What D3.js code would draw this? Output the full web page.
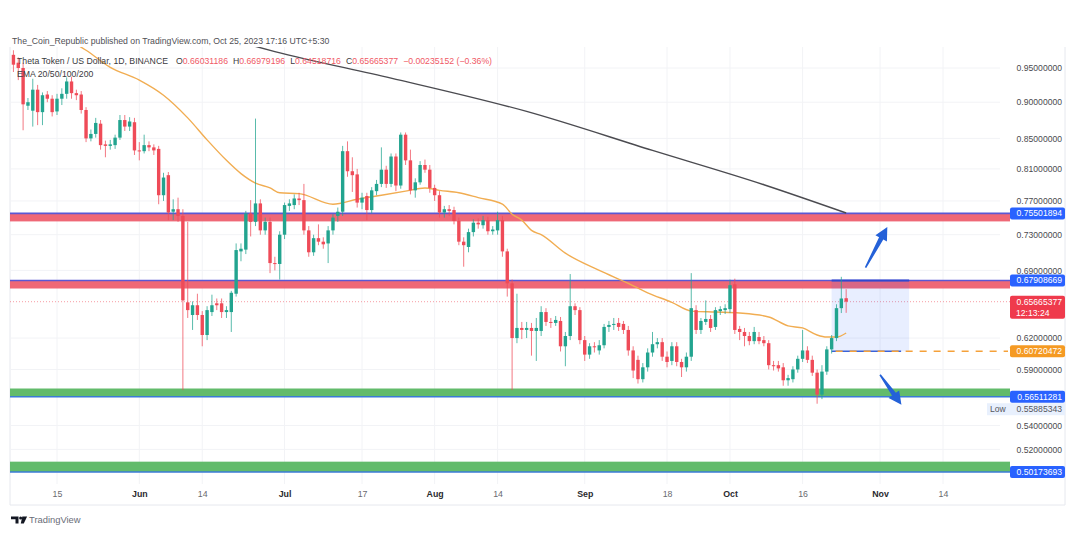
<!DOCTYPE html>
<html>
<head>
<meta charset="utf-8">
<script src="https://cdn.jsdelivr.net/npm/d3@7"></script>
<style>
  body { margin: 0; background: #fff; }
  text { font-family: "Liberation Sans", Arial, sans-serif; }
</style>
</head>
<body>
<svg id="chart" width="1073" height="549"></svg>
<script>
(function () {
    //daily candles, first one is May 6 2023, one per day after that
    var firstDay = "2023-05-06";

    var opens = [
        0.970,0.958,0.950,0.895,0.888,0.918,0.886,0.911,0.905,0.887,0.905,0.912,0.930,0.913,0.911,0.889,0.850,0.856,0.870,0.842,0.840,0.841,0.851,0.875,0.866,0.872,
        0.834,0.833,0.841,0.838,0.836,0.777,0.802,0.757,0.760,0.752,0.656,0.643,0.653,0.643,0.623,0.646,0.655,0.655,0.646,0.646,0.665,0.711,0.713,0.755,0.745,0.767,0.735,0.745,0.698,0.697,
        0.730,0.764,0.765,0.773,0.771,0.735,0.710,0.726,0.722,0.720,0.735,0.752,0.757,0.833,0.807,0.803,0.768,0.776,0.759,0.782,0.791,0.809,0.791,0.826,0.789,0.855,0.821,0.783,0.793,0.815,0.809,
        0.786,0.777,0.756,0.760,0.759,0.746,0.722,0.716,0.733,0.744,0.741,0.747,0.734,0.735,0.747,0.711,0.676,0.620,0.630,0.628,0.630,0.627,0.627,0.646,0.636,0.635,0.637,0.612,0.622,0.652,0.648,
        0.618,0.604,0.612,0.608,0.613,0.631,0.633,0.635,0.634,0.628,0.608,0.599,0.581,0.592,0.606,0.614,0.616,0.602,0.598,0.612,0.597,0.592,0.602,0.648,0.628,0.636,0.639,0.631,0.647,0.648,
        0.649,0.675,0.629,0.626,0.622,0.617,0.621,0.618,0.615,0.594,0.594,0.592,0.580,0.581,0.590,0.600,0.608,0.599,0.587,0.567,0.588,0.609,0.620,0.650,0.6603
    ];
    var highs = [
        0.977,0.966,0.958,0.906,0.934,0.925,0.914,0.916,0.910,0.912,0.920,0.936,0.937,0.918,0.916,0.893,0.862,0.878,0.875,0.847,0.848,0.855,0.882,0.882,0.879,0.878,
        0.845,0.855,0.846,0.842,0.840,0.805,0.806,0.772,0.774,0.760,0.745,0.657,0.665,0.647,0.652,0.664,0.660,0.660,0.652,0.668,0.720,0.720,0.758,0.771,0.877,0.772,0.750,0.750,0.705,0.734,
        0.768,0.772,0.778,0.780,0.791,0.740,0.730,0.742,0.727,0.740,0.754,0.762,0.840,0.846,0.825,0.810,0.780,0.780,0.787,0.796,0.838,0.814,0.830,0.830,0.858,0.858,0.835,0.798,0.820,0.822,0.815,
        0.790,0.782,0.764,0.765,0.763,0.750,0.727,0.737,0.748,0.749,0.752,0.751,0.740,0.757,0.752,0.714,0.680,0.665,0.636,0.636,0.635,0.640,0.652,0.650,0.640,0.642,0.641,0.626,0.686,0.655,0.651,
        0.622,0.615,0.616,0.618,0.634,0.637,0.640,0.640,0.637,0.632,0.612,0.603,0.596,0.610,0.626,0.620,0.620,0.607,0.616,0.616,0.600,0.606,0.687,0.653,0.640,0.658,0.643,0.651,0.652,0.654,
        0.680,0.681,0.632,0.630,0.626,0.631,0.626,0.622,0.618,0.598,0.598,0.596,0.585,0.593,0.603,0.628,0.612,0.603,0.590,0.594,0.612,0.623,0.654,0.683,0.6698
    ];
    var lows = [
        0.944,0.932,0.861,0.889,0.866,0.868,0.868,0.900,0.880,0.882,0.896,0.905,0.905,0.903,0.884,0.845,0.846,0.851,0.835,0.825,0.835,0.836,0.848,0.860,0.860,0.828,
        0.821,0.830,0.833,0.828,0.766,0.770,0.747,0.747,0.745,0.571,0.640,0.628,0.638,0.612,0.618,0.642,0.648,0.640,0.640,0.626,0.662,0.700,0.708,0.728,0.740,0.730,0.730,0.687,0.690,0.680,
        0.725,0.758,0.760,0.765,0.730,0.705,0.706,0.718,0.714,0.698,0.730,0.745,0.752,0.800,0.781,0.762,0.760,0.747,0.755,0.777,0.787,0.786,0.787,0.782,0.785,0.815,0.778,0.774,0.790,0.805,0.780,
        0.770,0.750,0.750,0.752,0.742,0.718,0.694,0.710,0.728,0.737,0.737,0.730,0.730,0.730,0.705,0.662,0.571,0.615,0.619,0.620,0.603,0.598,0.622,0.632,0.630,0.632,0.607,0.593,0.618,0.643,0.614,
        0.598,0.600,0.606,0.604,0.610,0.626,0.628,0.627,0.624,0.603,0.582,0.577,0.578,0.588,0.602,0.610,0.598,0.592,0.594,0.593,0.583,0.588,0.598,0.624,0.624,0.633,0.626,0.628,0.643,0.644,
        0.645,0.624,0.618,0.612,0.613,0.614,0.614,0.612,0.590,0.589,0.588,0.575,0.575,0.578,0.587,0.597,0.596,0.584,0.5589,0.563,0.585,0.605,0.617,0.645,0.6452
    ];
    var closes = [
        0.955,0.950,0.897,0.900,0.918,0.886,0.910,0.905,0.886,0.905,0.912,0.930,0.913,0.910,0.889,0.850,0.856,0.871,0.841,0.840,0.842,0.851,0.875,0.866,0.873,0.834,
        0.833,0.841,0.838,0.834,0.777,0.799,0.756,0.760,0.752,0.658,0.648,0.653,0.643,0.623,0.648,0.653,0.653,0.646,0.648,0.666,0.7125,0.714,0.755,0.745,0.767,0.735,0.745,0.698,0.697,0.730,
        0.765,0.767,0.773,0.771,0.735,0.710,0.726,0.722,0.719,0.735,0.750,0.757,0.833,0.807,0.802,0.768,0.774,0.759,0.783,0.791,0.809,0.791,0.826,0.789,0.855,0.821,0.783,0.793,0.815,0.809,0.786,
        0.777,0.756,0.760,0.758,0.746,0.722,0.718,0.733,0.744,0.742,0.747,0.734,0.736,0.747,0.711,0.676,0.620,0.630,0.628,0.630,0.627,0.630,0.646,0.636,0.635,0.638,0.612,0.622,0.652,0.648,0.618,
        0.604,0.612,0.611,0.613,0.631,0.633,0.634,0.631,0.628,0.608,0.589,0.581,0.592,0.606,0.614,0.616,0.602,0.597,0.612,0.597,0.592,0.602,0.650,0.628,0.637,0.639,0.630,0.648,0.649,0.650,
        0.674,0.628,0.626,0.622,0.617,0.626,0.617,0.615,0.594,0.593,0.591,0.580,0.582,0.590,0.600,0.608,0.599,0.587,0.567,0.588,0.609,0.620,0.650,0.660,0.6567
    ];

    //moving averages at a few dates
    var emaOrangeDates = ["2023-05-17","2023-05-21","2023-05-26","2023-06-01","2023-06-06","2023-06-11","2023-06-15","2023-06-19","2023-06-22","2023-06-25","2023-06-28","2023-06-30","2023-07-04","2023-07-11","2023-07-16","2023-07-21","2023-07-26","2023-07-30","2023-08-02","2023-08-06","2023-08-10","2023-08-15","2023-08-17","2023-08-19","2023-08-21","2023-08-23","2023-08-28","2023-09-04","2023-09-10","2023-09-14","2023-09-19","2023-09-23","2023-09-28","2023-10-03","2023-10-09","2023-10-13","2023-10-16","2023-10-19","2023-10-21","2023-10-23","2023-10-25"];
    var emaOrangeValues = [0.995,0.977,0.951,0.932,0.910,0.878,0.848,0.821,0.804,0.792,0.786,0.780,0.779,0.766,0.772,0.777,0.782,0.786,0.783,0.780,0.774,0.766,0.754,0.747,0.735,0.730,0.709,0.690,0.676,0.666,0.656,0.647,0.646,0.645,0.641,0.632,0.630,0.623,0.621,0.621,0.625];
    var emaGreyDates = ["2023-06-24","2023-06-29","2023-07-23","2023-08-20","2023-09-15","2023-10-08","2023-10-25"];
    var emaGreyValues = [0.985,0.975,0.935,0.887,0.834,0.790,0.7555];

    //support / resistance zones [top, bottom]
    var redZones = [[0.75501894, 0.7455], [0.67908669, 0.6705]];
    var greenZones = [[0.5725, 0.56511281], [0.5100, 0.50173693]];

    var priceTicks = [0.95, 0.90, 0.85, 0.81, 0.77, 0.73, 0.69, 0.62, 0.59, 0.54, 0.52];
    var timeTicks = ["2023-05-15","2023-06-01","2023-06-14","2023-07-01","2023-07-17","2023-08-01","2023-08-14","2023-09-01","2023-09-18","2023-10-01","2023-10-16","2023-11-01","2023-11-14"];
    var timeLabels = ["15","Jun","14","Jul","17","Aug","14","Sep","18","Oct","16","Nov","14"];

    var lastPrice = 0.65665377, lastTimer = "12:13:24";
    var stopPrice = 0.60720472, lowPrice = 0.55885343;
    var boxDates = ["2023-10-22", "2023-11-07"];
    var arrowUp = [["2023-10-29T00:00", 0.693], ["2023-11-02T12:00", 0.739]];
    var arrowDown = [["2023-11-01T00:00", 0.585], ["2023-11-05T10:00", 0.558]];

    var left = 10, right = 1010, top = 47, bottom = 484;
    var green = "#22a48f", red = "#ef4b58";

    var parseDay = d3.utcParse("%Y-%m-%d");
    var parseTime = d3.utcParse("%Y-%m-%dT%H:%M");
    function day(s) { return s.length > 10 ? parseTime(s) : parseDay(s); }

    var candles = opens.map(function (o, i) {
        return { date: d3.utcDay.offset(parseDay(firstDay), i), o: o, h: highs[i], l: lows[i], c: closes[i] };
    });

    var x = d3.scaleUtc()
        .domain([parseDay("2023-05-15"), parseDay("2023-11-14")])
        .range([57, 943]);
    var y = d3.scaleLog()
        .domain([0.95, 0.50173693])
        .range([68, 472]);

    var svg = d3.select("#chart");

    svg.append("defs").append("clipPath").attr("id", "plot")
        .append("rect").attr("x", left).attr("y", top)
        .attr("width", right - left).attr("height", bottom - top);

    //frame
    svg.append("path")
        .attr("d", "M" + left + "," + top + "V505H1065V" + top)
        .attr("fill", "none").attr("stroke", "#e6e8ee");

    //grid
    svg.append("g").selectAll("line").data(priceTicks).join("line")
        .attr("x1", left).attr("x2", 1000)
        .attr("y1", d => y(d)).attr("y2", d => y(d))
        .attr("stroke", "#f2f3f6");
    svg.append("g").selectAll("line").data(timeTicks).join("line")
        .attr("x1", d => x(day(d))).attr("x2", d => x(day(d)))
        .attr("y1", top).attr("y2", bottom)
        .attr("stroke", "#f2f3f6");

    var plot = svg.append("g").attr("clip-path", "url(#plot)");

    //zones
    plot.selectAll(".rz").data(redZones).join("rect")
        .attr("x", left).attr("width", right - left)
        .attr("y", d => y(d[0])).attr("height", d => y(d[1]) - y(d[0]))
        .attr("fill", "#ee5b6a").attr("opacity", 0.92);
    plot.selectAll(".rzl").data(redZones).join("line")
        .attr("x1", left).attr("x2", right)
        .attr("y1", d => y(d[0])).attr("y2", d => y(d[0]))
        .attr("stroke", "#5b58d4").attr("stroke-width", 1.6);
    plot.selectAll(".gz").data(greenZones).join("rect")
        .attr("x", left).attr("width", right - left)
        .attr("y", d => y(d[0])).attr("height", d => y(d[1]) - y(d[0]))
        .attr("fill", "#62bb6b");
    plot.selectAll(".gzl").data(greenZones).join("line")
        .attr("x1", left).attr("x2", right)
        .attr("y1", d => y(d[1])).attr("y2", d => y(d[1]))
        .attr("stroke", "#3b7bd6").attr("stroke-width", 1.6);

    //last price dotted line
    plot.append("line")
        .attr("x1", left).attr("x2", right)
        .attr("y1", y(lastPrice)).attr("y2", y(lastPrice))
        .attr("stroke", red).attr("stroke-opacity", 0.55)
        .attr("stroke-dasharray", "1,2");

    //projection box
    var bx0 = x(day(boxDates[0])), bx1 = x(day(boxDates[1]));
    plot.append("rect")
        .attr("x", bx0).attr("width", bx1 - bx0)
        .attr("y", y(redZones[1][0])).attr("height", y(stopPrice) - y(redZones[1][0]))
        .attr("fill", "#2962ff").attr("opacity", 0.11);
    plot.append("line")
        .attr("x1", bx0).attr("x2", bx1)
        .attr("y1", y(redZones[1][0])).attr("y2", y(redZones[1][0]))
        .attr("stroke", "#3048d0").attr("stroke-width", 2);
    plot.append("line")
        .attr("x1", bx0).attr("x2", bx1 - 8)
        .attr("y1", y(stopPrice)).attr("y2", y(stopPrice))
        .attr("stroke", "#3a62d8").attr("stroke-width", 1.5);
    svg.append("line")
        .attr("x1", bx0 + 4).attr("x2", 1008)
        .attr("y1", y(stopPrice)).attr("y2", y(stopPrice))
        .attr("stroke", "#f5a13a").attr("stroke-width", 1.6)
        .attr("stroke-dasharray", "7,7");

    //moving averages
    var line = d3.line()
        .x(d => x(day(d[0])))
        .y(d => y(d[1]))
        .curve(d3.curveMonotoneX);
    plot.append("path")
        .attr("d", line(d3.zip(emaGreyDates, emaGreyValues)))
        .attr("fill", "none").attr("stroke", "#4b4b50").attr("stroke-width", 1.4);
    plot.append("path")
        .attr("d", line(d3.zip(emaOrangeDates, emaOrangeValues)))
        .attr("fill", "none").attr("stroke", "#f1ad52").attr("stroke-width", 1.4);

    //candles
    var cg = plot.append("g");
    cg.selectAll("line").data(candles).join("line")
        .attr("x1", d => x(d.date)).attr("x2", d => x(d.date))
        .attr("y1", d => y(d.h)).attr("y2", d => y(d.l))
        .attr("stroke", d => d.c >= d.o ? green : red)
        .attr("stroke-opacity", 0.75);
    cg.selectAll("rect").data(candles).join("rect")
        .attr("x", d => x(d.date) - 1.7).attr("width", 3.4)
        .attr("y", d => y(Math.max(d.o, d.c)))
        .attr("height", d => Math.max(1, Math.abs(y(d.o) - y(d.c))))
        .attr("fill", d => d.c >= d.o ? green : red);

    //arrows
    function arrow(a) {
        var x0 = x(day(a[0][0])), y0 = y(a[0][1]);
        var x1 = x(day(a[1][0])), y1 = y(a[1][1]);
        var len = Math.hypot(x1 - x0, y1 - y0);
        var ux = (x1 - x0) / len, uy = (y1 - y0) / len, nx = -uy, ny = ux;
        var hl = 13, hw = 6.5;
        var bxp = x1 - ux * hl, byp = y1 - uy * hl;
        var pts = [
            [x0 + nx * 0.8, y0 + ny * 0.8],
            [bxp + nx * 2.4, byp + ny * 2.4],
            [bxp + nx * hw, byp + ny * hw],
            [x1, y1],
            [bxp - nx * hw, byp - ny * hw],
            [bxp - nx * 2.4, byp - ny * 2.4],
            [x0 - nx * 0.8, y0 - ny * 0.8]
        ];
        svg.append("path").attr("d", "M" + pts.join("L") + "Z").attr("fill", "#2461d8");
    }
    arrow(arrowUp);
    arrow(arrowDown);

    //axes
    var yAxis = svg.append("g")
        .attr("transform", "translate(1062,0)")
        .call(d3.axisLeft(y).tickValues(priceTicks).tickFormat(d3.format(".8f")).tickSize(0).tickPadding(0));
    yAxis.select(".domain").remove();
    yAxis.selectAll("text").attr("font-size", 8.6).attr("fill", "#4a4a4e")
        .attr("font-family", "Liberation Sans, Arial, sans-serif");

    var xAxis = svg.append("g")
        .attr("transform", "translate(0," + 491 + ")")
        .call(d3.axisBottom(x).tickValues(timeTicks.map(day))
            .tickFormat((d, i) => timeLabels[i]).tickSize(0).tickPadding(0));
    xAxis.select(".domain").remove();
    xAxis.selectAll("text").attr("font-size", 8.8)
        .attr("font-family", "Liberation Sans, Arial, sans-serif")
        .attr("fill", (d, i) => /^[A-Z]/.test(timeLabels[i]) ? "#2a2a2e" : "#6a6a70")
        .attr("font-weight", (d, i) => /^[A-Z]/.test(timeLabels[i]) ? "bold" : "normal");

    //price tags
    function tag(price, label, bg) {
        var g = svg.append("g");
        g.append("rect").attr("x", 1010).attr("width", 55)
            .attr("y", y(price) - 6).attr("height", 12).attr("rx", 2).attr("fill", bg);
        g.append("text").attr("x", 1062).attr("y", y(price) + 3)
            .attr("text-anchor", "end").attr("font-size", 8.6).attr("fill", "#fff").text(label);
    }
    var fmt = d3.format(".8f");
    tag(redZones[0][0], fmt(redZones[0][0]), "#2962ff");
    tag(redZones[1][0], fmt(redZones[1][0]), "#2962ff");
    tag(greenZones[1][1], fmt(greenZones[1][1]), "#2962ff");
    tag(stopPrice, fmt(stopPrice), "#f59a23");

    var lp = svg.append("g");
    lp.append("rect").attr("x", 1010).attr("width", 55)
        .attr("y", y(lastPrice) - 6).attr("height", 23).attr("rx", 2).attr("fill", "#ef3a4c");
    lp.append("text").attr("x", 1062).attr("y", y(lastPrice) + 3)
        .attr("text-anchor", "end").attr("font-size", 8.6).attr("fill", "#fff").text(fmt(lastPrice));
    lp.append("text").attr("x", 1016).attr("y", y(lastPrice) + 14)
        .attr("font-size", 8.6).attr("fill", "#fff").text(lastTimer);

    //low label sits just below the support tag, the way the platform stacks it
    var tagBottom = y(greenZones[0][1]) + 6;
    var lw = svg.append("g");
    lw.append("rect").attr("x", 987).attr("width", 78)
        .attr("y", tagBottom + 0.5).attr("height", 12).attr("fill", "#e8f0fd");
    lw.append("text").attr("x", 990).attr("y", tagBottom + 9.5)
        .attr("font-size", 8.6).attr("fill", "#55575e").text("Low");
    lw.append("text").attr("x", 1062).attr("y", tagBottom + 9.5)
        .attr("text-anchor", "end").attr("font-size", 8.6).attr("fill", "#55575e").text(fmt(lowPrice));
    tag(greenZones[0][1], fmt(greenZones[0][1]), "#2962ff");

    //header texts
    svg.append("text").attr("x", 12).attr("y", 44).attr("font-size", 8.7).attr("fill", "#505055")
        .text("The_Coin_Republic published on TradingView.com, Oct 25, 2023 17:16 UTC+5:30");

    var legend = svg.append("text").attr("x", 17).attr("y", 64).attr("font-size", 8.7).attr("fill", "#3a3a40");
    legend.append("tspan").text("Theta Token / US Dollar, 1D, BINANCE");
    [["O", "0.66031186"], ["H", "0.66979196"], ["L", "0.64518716"], ["C", "0.65665377"]].forEach(function (p, i) {
        legend.append("tspan").attr("dx", i === 0 ? 8 : 5).text(p[0]);
        legend.append("tspan").attr("fill", "#f05a66").text(p[1]);
    });
    legend.append("tspan").attr("dx", 5).attr("fill", "#f05a66").text("\u22120.00235152 (\u22120.36%)");
    svg.append("text").attr("x", 17).attr("y", 77).attr("font-size", 8.7).attr("fill", "#3a3a40")
        .text("EMA 20/50/100/200");

    //tradingview logo
    var logo = svg.append("g").attr("fill", "#131722");
    logo.append("path").attr("d", "M11,516.5h7.5v7h-3v-4.3h-4.5z");
    logo.append("circle").attr("cx", 20.6).attr("cy", 518).attr("r", 1.5);
    logo.append("path").attr("d", "M22.3,516.5h4.8l-3.3,7h-3z");
    svg.append("text").attr("x", 29).attr("y", 523).attr("font-size", 9.4).attr("fill", "#6a6d78")
        .text("TradingView");
})();
</script>
</body>
</html>
